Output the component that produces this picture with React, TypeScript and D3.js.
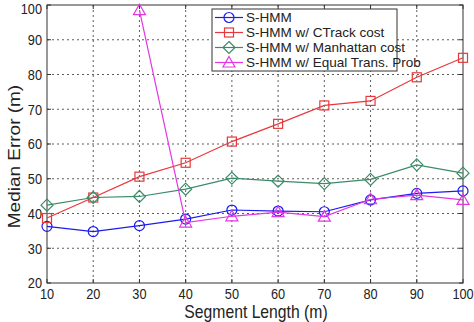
import React from "react";
import * as d3 from "d3";

const segmentLengths = [10, 20, 30, 40, 50, 60, 70, 80, 90, 100];
const sHmm = [36.3, 34.8, 36.5, 38.4, 41.0, 40.7, 40.5, 43.9, 45.8, 46.5];
const cTrack = [38.7, 44.6, 50.6, 54.6, 60.7, 65.8, 71.1, 72.4, 79.2, 84.8];
const manhattan = [42.4, 44.6, 44.9, 47.0, 50.2, 49.3, 48.6, 49.8, 54.0, 51.6];
const equalTrans: (number | null)[] = [null, null, 98.5, 37.4, 39.2, 40.4, 39.1, 44.1, 45.3, 43.9];
const xTicks = [10, 20, 30, 40, 50, 60, 70, 80, 90, 100];
const yTicks = [20, 30, 40, 50, 60, 70, 80, 90, 100];
const seriesNames = ["S-HMM", "S-HMM w/ CTrack cost", "S-HMM w/ Manhattan cost", "S-HMM w/ Equal Trans. Prob"];

const W = 474, H = 322;
const L = 47, R = 463, T = 5, B = 283;
const FONT = "'Liberation Sans', Arial, sans-serif";

function Marker({ kind, x, y, color }: { kind: string; x: number; y: number; color: string }) {
  if (kind === "circle") return <circle cx={x} cy={y} r={5} fill="none" stroke={color} strokeWidth={1.2} />;
  if (kind === "square") return <rect x={x - 4.5} y={y - 4.5} width={9} height={9} fill="none" stroke={color} strokeWidth={1.2} />;
  if (kind === "diamond") return <path d={`M${x},${y - 6}L${x + 6},${y}L${x},${y + 6}L${x - 6},${y}Z`} fill="none" stroke={color} strokeWidth={1.2} />;
  return <path d={`M${x},${y - 6}L${x + 6},${y + 4.5}L${x - 6},${y + 4.5}Z`} fill="none" stroke={color} strokeWidth={1.2} />;
}

export default function App() {
  const x = d3.scaleLinear().domain([10, 100]).range([L, R]);
  const y = d3.scaleLinear().domain([20, 100]).range([B, T]);
  const series = [
    { name: seriesNames[0], vals: sHmm as (number | null)[], color: "#1c1cf0", kind: "circle" },
    { name: seriesNames[1], vals: cTrack as (number | null)[], color: "#e8383c", kind: "square" },
    { name: seriesNames[2], vals: manhattan as (number | null)[], color: "#3a8c68", kind: "diamond" },
    { name: seriesNames[3], vals: equalTrans, color: "#e436e4", kind: "triangle" },
  ];
  const line = d3.line<[number, number | null]>()
    .defined((d) => d[1] !== null)
    .x((d) => x(d[0]))
    .y((d) => y(d[1] as number));

  return (
    <svg width={W} height={H} style={{ position: "absolute", left: 0, top: 0 }} fontFamily={FONT}>
      <rect x={0} y={0} width={W} height={H} fill="#fff" />
      {/* grid */}
      {xTicks.slice(1, -1).map((t) => (
        <line key={"gx" + t} x1={x(t)} x2={x(t)} y1={T} y2={B} stroke="#333" strokeWidth={0.8} strokeDasharray="2,3" />
      ))}
      {yTicks.slice(1, -1).map((t) => (
        <line key={"gy" + t} x1={L} x2={R} y1={y(t)} y2={y(t)} stroke="#333" strokeWidth={0.8} strokeDasharray="2,3" />
      ))}
      {/* ticks */}
      {xTicks.map((t) => (
        <g key={"tx" + t}>
          <line x1={x(t)} x2={x(t)} y1={B} y2={B - 4} stroke="#333" />
          <line x1={x(t)} x2={x(t)} y1={T} y2={T + 4} stroke="#333" />
          <text transform={`translate(${x(t)},299) scale(0.85,1)`} fontSize={15} textAnchor="middle" fill="#222">{t}</text>
        </g>
      ))}
      {yTicks.map((t) => (
        <g key={"ty" + t}>
          <line x1={L} x2={L + 4} y1={y(t)} y2={y(t)} stroke="#333" />
          <line x1={R} x2={R - 4} y1={y(t)} y2={y(t)} stroke="#333" />
          <text transform={`translate(42,${Math.max(y(t) + 5.3, 14)}) scale(0.85,1)`} fontSize={15} textAnchor="end" fill="#222">{t}</text>
        </g>
      ))}
      <rect x={L} y={T} width={R - L} height={B - T} fill="none" stroke="#333" strokeWidth={1} />
      {/* series */}
      {series.map((s) => {
        const pts: [number, number | null][] = segmentLengths.map((v, i) => [v, s.vals[i]]);
        return (
          <g key={s.name}>
            <path d={line(pts) || ""} fill="none" stroke={s.color} strokeWidth={1.2} />
            {pts.filter((p) => p[1] !== null).map((p) => (
              <Marker key={p[0]} kind={s.kind} x={x(p[0])} y={y(p[1] as number)} color={s.color} />
            ))}
          </g>
        );
      })}
      {/* legend */}
      <rect x={212} y={9} width={185} height={62} fill="#fff" stroke="#333" strokeWidth={1} />
      {series.map((s, i) => {
        const ly = 17.5 + i * 15;
        return (
          <g key={"lg" + i}>
            <line x1={215} x2={243} y1={ly} y2={ly} stroke={s.color} strokeWidth={1.2} />
            <Marker kind={s.kind} x={229} y={ly} color={s.color} />
            <text x={246} y={ly + 4.8} fontSize={13.5} fill="#222">{s.name}</text>
          </g>
        );
      })}
      <text transform={`translate(256,318.3) scale(0.85,1)`} fontSize={18.5} textAnchor="middle" fill="#222">Segment Length (m)</text>
      <text transform={`translate(20,156.5) scale(0.83,1) rotate(-90)`} fontSize={19} textAnchor="middle" fill="#222">Median Error (m)</text>
    </svg>
  );
}
